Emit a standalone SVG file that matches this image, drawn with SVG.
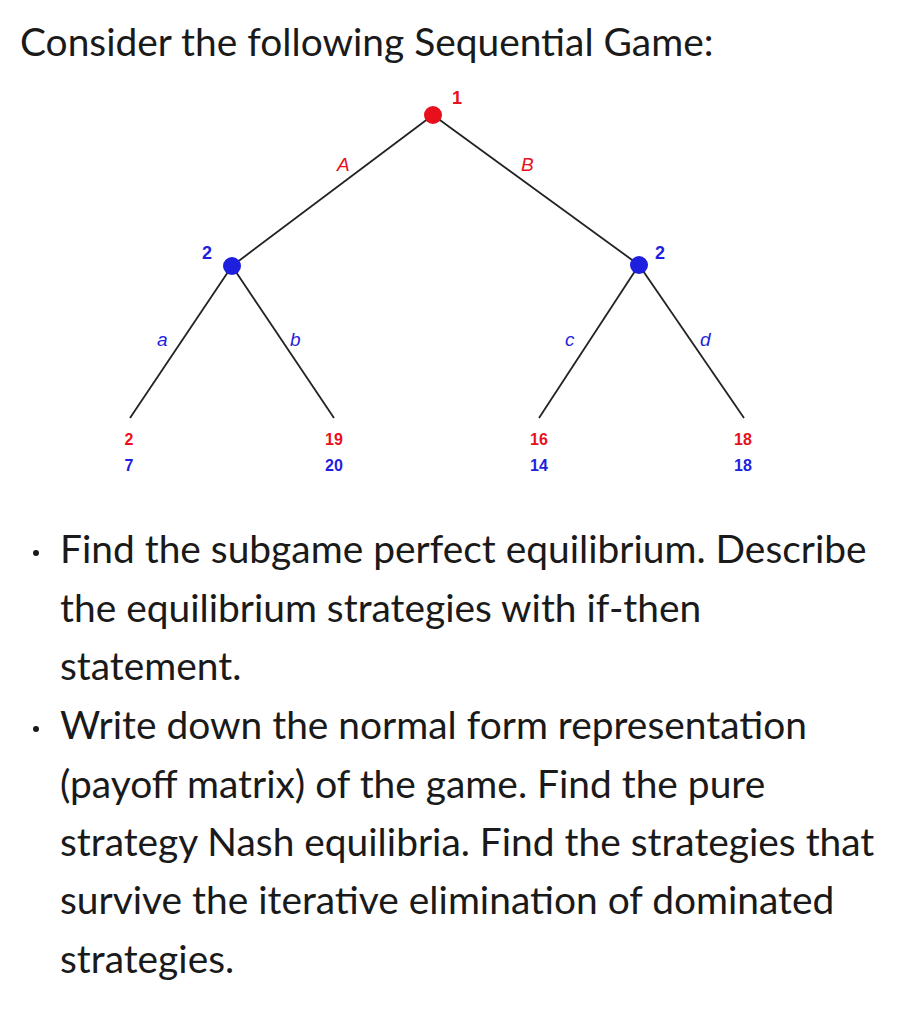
<svg xmlns="http://www.w3.org/2000/svg" width="899" height="1024" viewBox="0 0 899 1024">
<style>
.t{font-family:Lato,"Open Sans",sans-serif;font-size:38.9px;fill:#1a1a1a}
.e{stroke:#222;stroke-width:1.8;fill:none}
.r{fill:#e8101c}.b{fill:#1f1fe0}
.lab{font-family:"Liberation Sans",Arial,sans-serif;font-size:19px;font-style:italic}
.num{font-family:"Liberation Sans",Arial,sans-serif;font-size:16px;font-weight:bold;text-anchor:middle}
.pl{font-family:"Liberation Sans",Arial,sans-serif;font-size:18px;font-weight:bold}
</style>
<rect width="899" height="1024" fill="#fff"/>
<text class="t" x="20" y="56">Consider the following Sequential Game:</text>
<g id="edges">
<line class="e" x1="433" y1="115" x2="232" y2="266"/>
<line class="e" x1="433" y1="115" x2="639" y2="265"/>
<line class="e" x1="232" y1="266" x2="130" y2="418"/>
<line class="e" x1="232" y1="266" x2="334" y2="418"/>
<line class="e" x1="639" y1="265" x2="539" y2="418"/>
<line class="e" x1="639" y1="265" x2="744" y2="418"/>
<text class="lab r" x="337" y="171">A</text>
<text class="lab r" x="521" y="171">B</text>
<text class="lab b" x="157" y="346">a</text>
<text class="lab b" x="290" y="346">b</text>
<text class="lab b" x="565" y="346">c</text>
<text class="lab b" x="700" y="346">d</text>
</g>
<g id="n1"><circle class="r" cx="433" cy="115" r="9"/><text class="pl r" x="452" y="104">1</text></g>
<g id="n2a"><circle class="b" cx="232" cy="266" r="9"/><text class="pl b" x="202" y="259">2</text></g>
<g id="n2b"><circle class="b" cx="639" cy="265" r="9"/><text class="pl b" x="655" y="259">2</text></g>
<g id="leafa"><text class="num r" x="129" y="445">2</text><text class="num b" x="129" y="471">7</text></g>
<g id="leafb"><text class="num r" x="334" y="445">19</text><text class="num b" x="334" y="471">20</text></g>
<g id="leafc"><text class="num r" x="539" y="445">16</text><text class="num b" x="539" y="471">14</text></g>
<g id="leafd"><text class="num r" x="743" y="445">18</text><text class="num b" x="743" y="471">18</text></g>
<circle cx="36" cy="553" r="3" fill="#1a1a1a"/>
<circle cx="36" cy="729" r="3" fill="#1a1a1a"/>
<text class="t" x="60" y="563">Find the subgame perfect equilibrium. Describe</text>
<text class="t" x="60" y="622">the equilibrium strategies with if-then</text>
<text class="t" x="60" y="680">statement.</text>
<text class="t" x="60" y="739">Write down the normal form representation</text>
<text class="t" x="60" y="798">(payoff  matrix) of the game. Find the pure</text>
<text class="t" x="60" y="856">strategy Nash equilibria. Find the strategies that</text>
<text class="t" x="60" y="914">survive the iterative elimination of dominated</text>
<text class="t" x="60" y="973">strategies.</text>
</svg>
